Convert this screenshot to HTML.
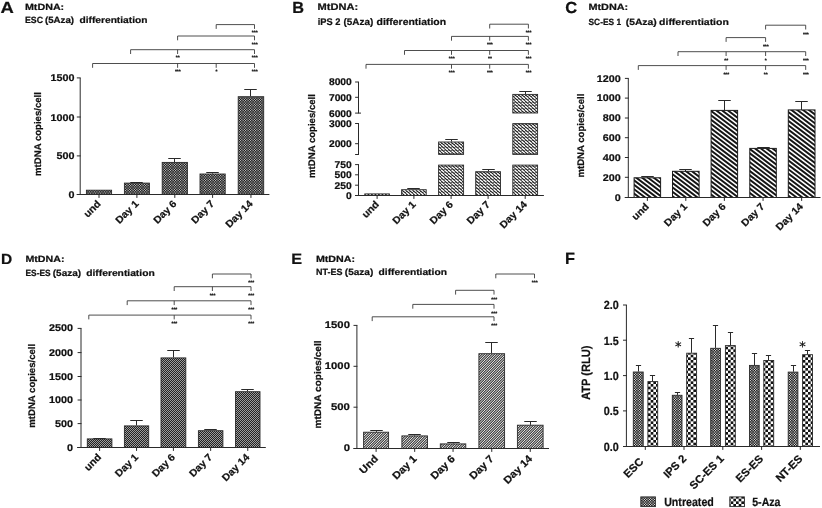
<!DOCTYPE html>
<html><head><meta charset="utf-8"><title>Figure</title>
<style>
html,body{margin:0;padding:0;background:#fff;}
body{width:822px;height:508px;overflow:hidden;}
svg{display:block;font-family:"Liberation Sans",sans-serif;}
text{fill:#111;stroke:#111;stroke-width:0.22px;}
</style></head><body>
<svg width="822" height="508" viewBox="0 0 822 508" text-rendering="geometricPrecision">
<defs>
<pattern id="pA" width="5" height="5" patternUnits="userSpaceOnUse"><rect width="5" height="5" fill="#141414"/><rect x="0.100" y="0.100" width="1.050" height="1.050" fill="#e0e0e0"/><rect x="0.100" y="2.600" width="1.050" height="1.050" fill="#e0e0e0"/><rect x="1.350" y="1.350" width="1.050" height="1.050" fill="#e0e0e0"/><rect x="1.350" y="3.850" width="1.050" height="1.050" fill="#e0e0e0"/><rect x="2.600" y="0.100" width="1.050" height="1.050" fill="#e0e0e0"/><rect x="2.600" y="2.600" width="1.050" height="1.050" fill="#e0e0e0"/><rect x="3.850" y="1.350" width="1.050" height="1.050" fill="#e0e0e0"/><rect x="3.850" y="3.850" width="1.050" height="1.050" fill="#e0e0e0"/></pattern>
<pattern id="pD" width="2" height="2" patternUnits="userSpaceOnUse"><rect width="2" height="2" fill="#222222"/><rect x="0.000" y="0.000" width="1.000" height="1.000" fill="#9c9c9c"/><rect x="1.000" y="1.000" width="1.000" height="1.000" fill="#9c9c9c"/></pattern>
<pattern id="pB" width="7" height="16" patternUnits="userSpaceOnUse"><rect width="7" height="16" fill="#141414"/><path d="M-3.40 -2.90L-0.10 -0.30M-3.40 0.30L-0.10 2.90M-3.40 3.50L-0.10 6.10M-3.40 6.70L-0.10 9.30M-3.40 9.90L-0.10 12.50M-3.40 13.10L-0.10 15.70M-3.40 16.30L-0.10 18.90M0.10 -2.90L3.40 -0.30M0.10 0.30L3.40 2.90M0.10 3.50L3.40 6.10M0.10 6.70L3.40 9.30M0.10 9.90L3.40 12.50M0.10 13.10L3.40 15.70M0.10 16.30L3.40 18.90M3.60 -2.90L6.90 -0.30M3.60 0.30L6.90 2.90M3.60 3.50L6.90 6.10M3.60 6.70L6.90 9.30M3.60 9.90L6.90 12.50M3.60 13.10L6.90 15.70M3.60 16.30L6.90 18.90M7.10 -2.90L10.40 -0.30M7.10 0.30L10.40 2.90M7.10 3.50L10.40 6.10M7.10 6.70L10.40 9.30M7.10 9.90L10.40 12.50M7.10 13.10L10.40 15.70M7.10 16.30L10.40 18.90" stroke="#ffffff" stroke-width="1.4" fill="none"/></pattern>
<pattern id="pE" width="5" height="5" patternUnits="userSpaceOnUse"><rect width="5" height="5" fill="#484848"/><path d="M1.00 -1L-1 1.00M3.50 -1L-1 3.50M6.00 -1L-1 6.00M8.50 -1L-1 8.50M11.00 -1L-1 11.00" stroke="#e4e4e4" stroke-width="1.0" fill="none"/></pattern>
<pattern id="pU" width="5" height="5" patternUnits="userSpaceOnUse"><rect width="5" height="5" fill="#141414"/><circle cx="0.625" cy="0.625" r="0.56" fill="#ffffff"/><circle cx="0.625" cy="3.125" r="0.56" fill="#ffffff"/><circle cx="1.875" cy="1.875" r="0.56" fill="#ffffff"/><circle cx="1.875" cy="4.375" r="0.56" fill="#ffffff"/><circle cx="3.125" cy="0.625" r="0.56" fill="#ffffff"/><circle cx="3.125" cy="3.125" r="0.56" fill="#ffffff"/><circle cx="4.375" cy="1.875" r="0.56" fill="#ffffff"/><circle cx="4.375" cy="4.375" r="0.56" fill="#ffffff"/></pattern>
<pattern id="pZ" width="16" height="16" patternUnits="userSpaceOnUse"><rect width="16" height="16" fill="#ffffff"/><rect x="0.000" y="0.000" width="2.667" height="2.667" fill="#111111"/><rect x="0.000" y="5.333" width="2.667" height="2.667" fill="#111111"/><rect x="0.000" y="10.667" width="2.667" height="2.667" fill="#111111"/><rect x="2.667" y="2.667" width="2.667" height="2.667" fill="#111111"/><rect x="2.667" y="8.000" width="2.667" height="2.667" fill="#111111"/><rect x="2.667" y="13.333" width="2.667" height="2.667" fill="#111111"/><rect x="5.333" y="0.000" width="2.667" height="2.667" fill="#111111"/><rect x="5.333" y="5.333" width="2.667" height="2.667" fill="#111111"/><rect x="5.333" y="10.667" width="2.667" height="2.667" fill="#111111"/><rect x="8.000" y="2.667" width="2.667" height="2.667" fill="#111111"/><rect x="8.000" y="8.000" width="2.667" height="2.667" fill="#111111"/><rect x="8.000" y="13.333" width="2.667" height="2.667" fill="#111111"/><rect x="10.667" y="0.000" width="2.667" height="2.667" fill="#111111"/><rect x="10.667" y="5.333" width="2.667" height="2.667" fill="#111111"/><rect x="10.667" y="10.667" width="2.667" height="2.667" fill="#111111"/><rect x="13.333" y="2.667" width="2.667" height="2.667" fill="#111111"/><rect x="13.333" y="8.000" width="2.667" height="2.667" fill="#111111"/><rect x="13.333" y="13.333" width="2.667" height="2.667" fill="#111111"/></pattern>
</defs>
<rect width="822" height="508" fill="#fff"/>

<g id="panelA">
<text transform="translate(0.60 13.00) scale(1.15 1)" font-size="16" font-weight="bold" text-anchor="start" stroke="#111" stroke-width="0.4">A</text>
<text transform="translate(24.90 10.40)" font-size="9.0" font-weight="bold" text-anchor="start" textLength="39.30" lengthAdjust="spacingAndGlyphs" stroke="#111" stroke-width="0.3">MtDNA:</text>
<text transform="translate(25.00 22.90)" font-size="9.0" font-weight="bold" text-anchor="start" textLength="18.10" lengthAdjust="spacingAndGlyphs" stroke="#111" stroke-width="0.3">ESC</text>
<text transform="translate(45.00 22.90)" font-size="9.0" font-weight="bold" text-anchor="start" textLength="29.10" lengthAdjust="spacingAndGlyphs" stroke="#111" stroke-width="0.3">(5Aza)</text>
<text transform="translate(79.50 22.90)" font-size="9.0" font-weight="bold" text-anchor="start" textLength="67.90" lengthAdjust="spacingAndGlyphs" stroke="#111" stroke-width="0.3">differentiation</text>
<line x1="216.20" y1="24.60" x2="254.50" y2="24.60" stroke="#3a3a3a" stroke-width="0.9"/>
<line x1="216.20" y1="24.60" x2="216.20" y2="28.90" stroke="#3a3a3a" stroke-width="0.9"/>
<line x1="254.50" y1="24.60" x2="254.50" y2="28.90" stroke="#3a3a3a" stroke-width="0.9"/>
<text transform="translate(254.70 34.20)" font-size="5.0" font-weight="bold" text-anchor="middle" fill="#4a4a4a" stroke="none">***</text>
<line x1="177.60" y1="36.00" x2="254.50" y2="36.00" stroke="#3a3a3a" stroke-width="0.9"/>
<line x1="177.60" y1="36.00" x2="177.60" y2="40.30" stroke="#3a3a3a" stroke-width="0.9"/>
<line x1="254.50" y1="36.00" x2="254.50" y2="40.30" stroke="#3a3a3a" stroke-width="0.9"/>
<text transform="translate(254.70 45.60)" font-size="5.0" font-weight="bold" text-anchor="middle" fill="#4a4a4a" stroke="none">***</text>
<line x1="130.60" y1="49.70" x2="254.50" y2="49.70" stroke="#3a3a3a" stroke-width="0.9"/>
<line x1="130.60" y1="49.70" x2="130.60" y2="54.00" stroke="#3a3a3a" stroke-width="0.9"/>
<line x1="177.60" y1="49.70" x2="177.60" y2="54.00" stroke="#3a3a3a" stroke-width="0.9"/>
<line x1="254.50" y1="49.70" x2="254.50" y2="54.00" stroke="#3a3a3a" stroke-width="0.9"/>
<text transform="translate(177.80 59.30)" font-size="5.0" font-weight="bold" text-anchor="middle" fill="#4a4a4a" stroke="none">**</text>
<text transform="translate(254.70 59.30)" font-size="5.0" font-weight="bold" text-anchor="middle" fill="#4a4a4a" stroke="none">***</text>
<line x1="92.60" y1="63.50" x2="254.50" y2="63.50" stroke="#3a3a3a" stroke-width="0.9"/>
<line x1="92.60" y1="63.50" x2="92.60" y2="67.80" stroke="#3a3a3a" stroke-width="0.9"/>
<line x1="177.60" y1="63.50" x2="177.60" y2="67.80" stroke="#3a3a3a" stroke-width="0.9"/>
<line x1="216.20" y1="63.50" x2="216.20" y2="67.80" stroke="#3a3a3a" stroke-width="0.9"/>
<line x1="254.50" y1="63.50" x2="254.50" y2="67.80" stroke="#3a3a3a" stroke-width="0.9"/>
<text transform="translate(177.80 73.10)" font-size="5.0" font-weight="bold" text-anchor="middle" fill="#4a4a4a" stroke="none">***</text>
<text transform="translate(216.40 73.10)" font-size="5.0" font-weight="bold" text-anchor="middle" fill="#4a4a4a" stroke="none">*</text>
<text transform="translate(254.70 73.10)" font-size="5.0" font-weight="bold" text-anchor="middle" fill="#4a4a4a" stroke="none">***</text>
<line x1="80.20" y1="77.90" x2="80.20" y2="194.50" stroke="#2a2a2a" stroke-width="1"/>
<line x1="76.80" y1="77.90" x2="80.70" y2="77.90" stroke="#2a2a2a" stroke-width="1"/>
<text transform="translate(74.40 81.40) scale(1.1 1)" font-size="9.8" font-weight="bold" text-anchor="end">1500</text>
<line x1="76.80" y1="117.00" x2="80.70" y2="117.00" stroke="#2a2a2a" stroke-width="1"/>
<text transform="translate(74.40 120.50) scale(1.1 1)" font-size="9.8" font-weight="bold" text-anchor="end">1000</text>
<line x1="76.80" y1="155.90" x2="80.70" y2="155.90" stroke="#2a2a2a" stroke-width="1"/>
<text transform="translate(74.40 159.40) scale(1.1 1)" font-size="9.8" font-weight="bold" text-anchor="end">500</text>
<line x1="76.80" y1="194.50" x2="80.70" y2="194.50" stroke="#2a2a2a" stroke-width="1"/>
<text transform="translate(74.40 198.00) scale(1.1 1)" font-size="9.8" font-weight="bold" text-anchor="end">0</text>
<text transform="translate(41.00 134.00) rotate(-90)" font-size="9.6" font-weight="bold" text-anchor="middle">mtDNA copies/cell</text>
<rect x="86.40" y="190.20" width="25.20" height="4.30" fill="url(#pA)" stroke="#2a2a2a" stroke-width="0.9"/>
<line x1="136.50" y1="182.70" x2="136.50" y2="182.50" stroke="#2a2a2a" stroke-width="1"/>
<line x1="130.25" y1="182.50" x2="142.75" y2="182.50" stroke="#2a2a2a" stroke-width="1"/>
<rect x="124.40" y="183.10" width="25.00" height="11.40" fill="url(#pA)" stroke="#2a2a2a" stroke-width="0.9"/>
<line x1="174.50" y1="162.00" x2="174.50" y2="158.50" stroke="#2a2a2a" stroke-width="1"/>
<line x1="168.25" y1="158.50" x2="180.75" y2="158.50" stroke="#2a2a2a" stroke-width="1"/>
<rect x="162.20" y="162.40" width="25.20" height="32.10" fill="url(#pA)" stroke="#2a2a2a" stroke-width="0.9"/>
<line x1="212.50" y1="173.60" x2="212.50" y2="172.50" stroke="#2a2a2a" stroke-width="1"/>
<line x1="206.25" y1="172.50" x2="218.75" y2="172.50" stroke="#2a2a2a" stroke-width="1"/>
<rect x="200.00" y="174.00" width="25.20" height="20.50" fill="url(#pA)" stroke="#2a2a2a" stroke-width="0.9"/>
<line x1="250.50" y1="96.30" x2="250.50" y2="89.50" stroke="#2a2a2a" stroke-width="1"/>
<line x1="244.25" y1="89.50" x2="256.75" y2="89.50" stroke="#2a2a2a" stroke-width="1"/>
<rect x="238.20" y="96.70" width="25.50" height="97.80" fill="url(#pA)" stroke="#2a2a2a" stroke-width="0.9"/>
<line x1="76.80" y1="194.50" x2="269.40" y2="194.50" stroke="#2a2a2a" stroke-width="1"/>
<line x1="99.00" y1="194.50" x2="99.00" y2="197.90" stroke="#2a2a2a" stroke-width="1"/>
<line x1="136.90" y1="194.50" x2="136.90" y2="197.90" stroke="#2a2a2a" stroke-width="1"/>
<line x1="174.80" y1="194.50" x2="174.80" y2="197.90" stroke="#2a2a2a" stroke-width="1"/>
<line x1="212.60" y1="194.50" x2="212.60" y2="197.90" stroke="#2a2a2a" stroke-width="1"/>
<line x1="250.95" y1="194.50" x2="250.95" y2="197.90" stroke="#2a2a2a" stroke-width="1"/>
<text transform="translate(101.40 204.40) rotate(-45) scale(1.05 1)" font-size="10" font-weight="bold" text-anchor="end">und</text>
<text transform="translate(139.30 204.40) rotate(-45) scale(1.05 1)" font-size="10" font-weight="bold" text-anchor="end">Day 1</text>
<text transform="translate(177.20 204.40) rotate(-45) scale(1.05 1)" font-size="10" font-weight="bold" text-anchor="end">Day 6</text>
<text transform="translate(215.00 204.40) rotate(-45) scale(1.05 1)" font-size="10" font-weight="bold" text-anchor="end">Day 7</text>
<text transform="translate(253.35 204.40) rotate(-45) scale(1.05 1)" font-size="10" font-weight="bold" text-anchor="end">Day 14</text>
</g>
<g id="panelB">
<text transform="translate(292.20 13.00) scale(1.02 1)" font-size="16" font-weight="bold" text-anchor="start" stroke="#111" stroke-width="0.4">B</text>
<text transform="translate(317.60 10.40)" font-size="9.6" font-weight="bold" text-anchor="start" textLength="40.50" lengthAdjust="spacingAndGlyphs" stroke="#111" stroke-width="0.3">MtDNA:</text>
<text transform="translate(317.70 24.70)" font-size="9.6" font-weight="bold" text-anchor="start" textLength="22.70" lengthAdjust="spacingAndGlyphs" stroke="#111" stroke-width="0.3">iPS 2</text>
<text transform="translate(343.50 24.70)" font-size="9.6" font-weight="bold" text-anchor="start" textLength="29.80" lengthAdjust="spacingAndGlyphs" stroke="#111" stroke-width="0.3">(5Aza)</text>
<text transform="translate(376.60 24.70)" font-size="9.6" font-weight="bold" text-anchor="start" textLength="69.50" lengthAdjust="spacingAndGlyphs" stroke="#111" stroke-width="0.3">differentiation</text>
<line x1="489.70" y1="24.20" x2="528.40" y2="24.20" stroke="#3a3a3a" stroke-width="0.9"/>
<line x1="489.70" y1="24.20" x2="489.70" y2="28.50" stroke="#3a3a3a" stroke-width="0.9"/>
<line x1="528.40" y1="24.20" x2="528.40" y2="28.50" stroke="#3a3a3a" stroke-width="0.9"/>
<text transform="translate(528.60 34.00)" font-size="5.0" font-weight="bold" text-anchor="middle" fill="#4a4a4a" stroke="none">***</text>
<line x1="451.50" y1="36.40" x2="528.40" y2="36.40" stroke="#3a3a3a" stroke-width="0.9"/>
<line x1="451.50" y1="36.40" x2="451.50" y2="40.70" stroke="#3a3a3a" stroke-width="0.9"/>
<line x1="489.70" y1="36.40" x2="489.70" y2="40.70" stroke="#3a3a3a" stroke-width="0.9"/>
<line x1="528.40" y1="36.40" x2="528.40" y2="40.70" stroke="#3a3a3a" stroke-width="0.9"/>
<text transform="translate(489.90 46.20)" font-size="5.0" font-weight="bold" text-anchor="middle" fill="#4a4a4a" stroke="none">***</text>
<text transform="translate(528.60 46.20)" font-size="5.0" font-weight="bold" text-anchor="middle" fill="#4a4a4a" stroke="none">***</text>
<line x1="404.50" y1="50.50" x2="528.40" y2="50.50" stroke="#3a3a3a" stroke-width="0.9"/>
<line x1="404.50" y1="50.50" x2="404.50" y2="54.80" stroke="#3a3a3a" stroke-width="0.9"/>
<line x1="451.50" y1="50.50" x2="451.50" y2="54.80" stroke="#3a3a3a" stroke-width="0.9"/>
<line x1="489.70" y1="50.50" x2="489.70" y2="54.80" stroke="#3a3a3a" stroke-width="0.9"/>
<line x1="528.40" y1="50.50" x2="528.40" y2="54.80" stroke="#3a3a3a" stroke-width="0.9"/>
<text transform="translate(451.70 60.30)" font-size="5.0" font-weight="bold" text-anchor="middle" fill="#4a4a4a" stroke="none">***</text>
<text transform="translate(489.90 60.30)" font-size="5.0" font-weight="bold" text-anchor="middle" fill="#4a4a4a" stroke="none">**</text>
<text transform="translate(528.60 60.30)" font-size="5.0" font-weight="bold" text-anchor="middle" fill="#4a4a4a" stroke="none">***</text>
<line x1="366.00" y1="64.40" x2="528.40" y2="64.40" stroke="#3a3a3a" stroke-width="0.9"/>
<line x1="366.00" y1="64.40" x2="366.00" y2="68.70" stroke="#3a3a3a" stroke-width="0.9"/>
<line x1="451.50" y1="64.40" x2="451.50" y2="68.70" stroke="#3a3a3a" stroke-width="0.9"/>
<line x1="489.70" y1="64.40" x2="489.70" y2="68.70" stroke="#3a3a3a" stroke-width="0.9"/>
<line x1="528.40" y1="64.40" x2="528.40" y2="68.70" stroke="#3a3a3a" stroke-width="0.9"/>
<text transform="translate(451.70 74.20)" font-size="5.0" font-weight="bold" text-anchor="middle" fill="#4a4a4a" stroke="none">***</text>
<text transform="translate(489.90 74.20)" font-size="5.0" font-weight="bold" text-anchor="middle" fill="#4a4a4a" stroke="none">***</text>
<text transform="translate(528.60 74.20)" font-size="5.0" font-weight="bold" text-anchor="middle" fill="#4a4a4a" stroke="none">***</text>
<line x1="358.50" y1="82.00" x2="358.50" y2="113.10" stroke="#2a2a2a" stroke-width="1"/>
<line x1="355.10" y1="82.00" x2="359.00" y2="82.00" stroke="#2a2a2a" stroke-width="1"/>
<text transform="translate(351.80 85.40) scale(1.05 1)" font-size="9.8" font-weight="bold" text-anchor="end">8000</text>
<line x1="355.10" y1="97.30" x2="359.00" y2="97.30" stroke="#2a2a2a" stroke-width="1"/>
<text transform="translate(351.80 100.70) scale(1.05 1)" font-size="9.8" font-weight="bold" text-anchor="end">7000</text>
<line x1="355.10" y1="113.10" x2="359.00" y2="113.10" stroke="#2a2a2a" stroke-width="1"/>
<text transform="translate(351.80 116.50) scale(1.05 1)" font-size="9.8" font-weight="bold" text-anchor="end">6000</text>
<line x1="358.50" y1="113.10" x2="361.00" y2="113.10" stroke="#2a2a2a" stroke-width="1"/>
<line x1="358.50" y1="123.50" x2="358.50" y2="154.50" stroke="#2a2a2a" stroke-width="1"/>
<line x1="355.10" y1="123.50" x2="359.00" y2="123.50" stroke="#2a2a2a" stroke-width="1"/>
<text transform="translate(351.80 126.90) scale(1.05 1)" font-size="9.8" font-weight="bold" text-anchor="end">3000</text>
<line x1="355.10" y1="143.70" x2="359.00" y2="143.70" stroke="#2a2a2a" stroke-width="1"/>
<text transform="translate(351.80 147.10) scale(1.05 1)" font-size="9.8" font-weight="bold" text-anchor="end">2000</text>
<line x1="355.10" y1="154.50" x2="359.00" y2="154.50" stroke="#2a2a2a" stroke-width="1"/>
<line x1="358.50" y1="164.60" x2="358.50" y2="195.50" stroke="#2a2a2a" stroke-width="1"/>
<line x1="355.10" y1="164.60" x2="359.00" y2="164.60" stroke="#2a2a2a" stroke-width="1"/>
<text transform="translate(351.80 168.00) scale(1.05 1)" font-size="9.8" font-weight="bold" text-anchor="end">750</text>
<line x1="355.10" y1="174.80" x2="359.00" y2="174.80" stroke="#2a2a2a" stroke-width="1"/>
<text transform="translate(351.80 178.20) scale(1.05 1)" font-size="9.8" font-weight="bold" text-anchor="end">500</text>
<line x1="355.10" y1="185.20" x2="359.00" y2="185.20" stroke="#2a2a2a" stroke-width="1"/>
<text transform="translate(351.80 188.60) scale(1.05 1)" font-size="9.8" font-weight="bold" text-anchor="end">250</text>
<line x1="355.10" y1="195.50" x2="359.00" y2="195.50" stroke="#2a2a2a" stroke-width="1"/>
<text transform="translate(351.80 198.90) scale(1.05 1)" font-size="9.8" font-weight="bold" text-anchor="end">0</text>
<text transform="translate(314.50 136.00) rotate(-90)" font-size="9.6" font-weight="bold" text-anchor="middle">mtDNA copies/cell</text>
<rect x="364.80" y="193.90" width="24.60" height="1.60" fill="url(#pB)" stroke="#2a2a2a" stroke-width="0.9"/>
<line x1="413.50" y1="189.30" x2="413.50" y2="188.50" stroke="#2a2a2a" stroke-width="1"/>
<line x1="407.25" y1="188.50" x2="419.75" y2="188.50" stroke="#2a2a2a" stroke-width="1"/>
<rect x="401.60" y="189.70" width="24.60" height="5.80" fill="url(#pB)" stroke="#2a2a2a" stroke-width="0.9"/>
<line x1="451.50" y1="141.60" x2="451.50" y2="139.50" stroke="#2a2a2a" stroke-width="1"/>
<line x1="445.25" y1="139.50" x2="457.75" y2="139.50" stroke="#2a2a2a" stroke-width="1"/>
<rect x="438.60" y="165.10" width="25.00" height="30.40" fill="url(#pB)" stroke="#2a2a2a" stroke-width="0.9"/>
<rect x="438.60" y="142.00" width="25.00" height="12.40" fill="url(#pB)" stroke="#2a2a2a" stroke-width="0.9"/>
<line x1="488.50" y1="171.30" x2="488.50" y2="169.50" stroke="#2a2a2a" stroke-width="1"/>
<line x1="482.25" y1="169.50" x2="494.75" y2="169.50" stroke="#2a2a2a" stroke-width="1"/>
<rect x="475.70" y="171.70" width="24.80" height="23.80" fill="url(#pB)" stroke="#2a2a2a" stroke-width="0.9"/>
<line x1="525.50" y1="94.00" x2="525.50" y2="91.50" stroke="#2a2a2a" stroke-width="1"/>
<line x1="519.25" y1="91.50" x2="531.75" y2="91.50" stroke="#2a2a2a" stroke-width="1"/>
<rect x="512.80" y="165.10" width="24.80" height="30.40" fill="url(#pB)" stroke="#2a2a2a" stroke-width="0.9"/>
<rect x="512.80" y="123.60" width="24.80" height="30.80" fill="url(#pB)" stroke="#2a2a2a" stroke-width="0.9"/>
<rect x="512.80" y="94.40" width="24.80" height="18.60" fill="url(#pB)" stroke="#2a2a2a" stroke-width="0.9"/>
<line x1="355.10" y1="195.50" x2="543.90" y2="195.50" stroke="#2a2a2a" stroke-width="1"/>
<line x1="377.10" y1="195.50" x2="377.10" y2="198.90" stroke="#2a2a2a" stroke-width="1"/>
<line x1="413.90" y1="195.50" x2="413.90" y2="198.90" stroke="#2a2a2a" stroke-width="1"/>
<line x1="451.10" y1="195.50" x2="451.10" y2="198.90" stroke="#2a2a2a" stroke-width="1"/>
<line x1="488.10" y1="195.50" x2="488.10" y2="198.90" stroke="#2a2a2a" stroke-width="1"/>
<line x1="525.20" y1="195.50" x2="525.20" y2="198.90" stroke="#2a2a2a" stroke-width="1"/>
<text transform="translate(379.60 205.00) rotate(-45) scale(1.05 1)" font-size="10" font-weight="bold" text-anchor="end">und</text>
<text transform="translate(416.40 205.00) rotate(-45) scale(1.05 1)" font-size="10" font-weight="bold" text-anchor="end">Day 1</text>
<text transform="translate(453.60 205.00) rotate(-45) scale(1.05 1)" font-size="10" font-weight="bold" text-anchor="end">Day 6</text>
<text transform="translate(490.60 205.00) rotate(-45) scale(1.05 1)" font-size="10" font-weight="bold" text-anchor="end">Day 7</text>
<text transform="translate(527.70 205.00) rotate(-45) scale(1.05 1)" font-size="10" font-weight="bold" text-anchor="end">Day 14</text>
</g>
<g id="panelC">
<text transform="translate(565.30 13.20) scale(1.03 1)" font-size="16" font-weight="bold" text-anchor="start" stroke="#111" stroke-width="0.4">C</text>
<text transform="translate(588.40 10.40)" font-size="9.0" font-weight="bold" text-anchor="start" textLength="39.80" lengthAdjust="spacingAndGlyphs" stroke="#111" stroke-width="0.3">MtDNA:</text>
<text transform="translate(588.50 24.70)" font-size="9.0" font-weight="bold" text-anchor="start" textLength="32.60" lengthAdjust="spacingAndGlyphs" stroke="#111" stroke-width="0.3">SC-ES 1</text>
<text transform="translate(625.70 24.70)" font-size="9.0" font-weight="bold" text-anchor="start" textLength="31.00" lengthAdjust="spacingAndGlyphs" stroke="#111" stroke-width="0.3">(5Aza)</text>
<text transform="translate(659.10 24.70)" font-size="9.0" font-weight="bold" text-anchor="start" textLength="69.70" lengthAdjust="spacingAndGlyphs" stroke="#111" stroke-width="0.3">differentiation</text>
<line x1="765.60" y1="25.20" x2="805.70" y2="25.20" stroke="#3a3a3a" stroke-width="0.9"/>
<line x1="765.60" y1="25.20" x2="765.60" y2="29.50" stroke="#3a3a3a" stroke-width="0.9"/>
<line x1="805.70" y1="25.20" x2="805.70" y2="29.50" stroke="#3a3a3a" stroke-width="0.9"/>
<text transform="translate(805.90 35.50)" font-size="5.0" font-weight="bold" text-anchor="middle" fill="#4a4a4a" stroke="none">***</text>
<line x1="726.10" y1="37.60" x2="765.60" y2="37.60" stroke="#3a3a3a" stroke-width="0.9"/>
<line x1="726.10" y1="37.60" x2="726.10" y2="41.90" stroke="#3a3a3a" stroke-width="0.9"/>
<line x1="765.60" y1="37.60" x2="765.60" y2="41.90" stroke="#3a3a3a" stroke-width="0.9"/>
<text transform="translate(765.80 47.90)" font-size="5.0" font-weight="bold" text-anchor="middle" fill="#4a4a4a" stroke="none">***</text>
<line x1="678.00" y1="51.70" x2="805.70" y2="51.70" stroke="#3a3a3a" stroke-width="0.9"/>
<line x1="678.00" y1="51.70" x2="678.00" y2="56.00" stroke="#3a3a3a" stroke-width="0.9"/>
<line x1="726.10" y1="51.70" x2="726.10" y2="56.00" stroke="#3a3a3a" stroke-width="0.9"/>
<line x1="765.60" y1="51.70" x2="765.60" y2="56.00" stroke="#3a3a3a" stroke-width="0.9"/>
<line x1="805.70" y1="51.70" x2="805.70" y2="56.00" stroke="#3a3a3a" stroke-width="0.9"/>
<text transform="translate(726.30 62.00)" font-size="5.0" font-weight="bold" text-anchor="middle" fill="#4a4a4a" stroke="none">**</text>
<text transform="translate(765.80 62.00)" font-size="5.0" font-weight="bold" text-anchor="middle" fill="#4a4a4a" stroke="none">*</text>
<text transform="translate(805.90 62.00)" font-size="5.0" font-weight="bold" text-anchor="middle" fill="#4a4a4a" stroke="none">***</text>
<line x1="638.30" y1="65.60" x2="805.70" y2="65.60" stroke="#3a3a3a" stroke-width="0.9"/>
<line x1="638.30" y1="65.60" x2="638.30" y2="69.90" stroke="#3a3a3a" stroke-width="0.9"/>
<line x1="726.10" y1="65.60" x2="726.10" y2="69.90" stroke="#3a3a3a" stroke-width="0.9"/>
<line x1="765.60" y1="65.60" x2="765.60" y2="69.90" stroke="#3a3a3a" stroke-width="0.9"/>
<line x1="805.70" y1="65.60" x2="805.70" y2="69.90" stroke="#3a3a3a" stroke-width="0.9"/>
<text transform="translate(726.30 75.90)" font-size="5.0" font-weight="bold" text-anchor="middle" fill="#4a4a4a" stroke="none">***</text>
<text transform="translate(765.80 75.90)" font-size="5.0" font-weight="bold" text-anchor="middle" fill="#4a4a4a" stroke="none">**</text>
<text transform="translate(805.90 75.90)" font-size="5.0" font-weight="bold" text-anchor="middle" fill="#4a4a4a" stroke="none">***</text>
<line x1="628.30" y1="78.40" x2="628.30" y2="197.50" stroke="#2a2a2a" stroke-width="1"/>
<line x1="624.90" y1="78.40" x2="628.80" y2="78.40" stroke="#2a2a2a" stroke-width="1"/>
<text transform="translate(620.70 81.60) scale(1.1 1)" font-size="9.8" font-weight="bold" text-anchor="end">1200</text>
<line x1="624.90" y1="98.10" x2="628.80" y2="98.10" stroke="#2a2a2a" stroke-width="1"/>
<text transform="translate(620.70 101.30) scale(1.1 1)" font-size="9.8" font-weight="bold" text-anchor="end">1000</text>
<line x1="624.90" y1="118.00" x2="628.80" y2="118.00" stroke="#2a2a2a" stroke-width="1"/>
<text transform="translate(620.70 121.20) scale(1.1 1)" font-size="9.8" font-weight="bold" text-anchor="end">800</text>
<line x1="624.90" y1="137.70" x2="628.80" y2="137.70" stroke="#2a2a2a" stroke-width="1"/>
<text transform="translate(620.70 140.90) scale(1.1 1)" font-size="9.8" font-weight="bold" text-anchor="end">600</text>
<line x1="624.90" y1="157.50" x2="628.80" y2="157.50" stroke="#2a2a2a" stroke-width="1"/>
<text transform="translate(620.70 160.70) scale(1.1 1)" font-size="9.8" font-weight="bold" text-anchor="end">400</text>
<line x1="624.90" y1="177.30" x2="628.80" y2="177.30" stroke="#2a2a2a" stroke-width="1"/>
<text transform="translate(620.70 180.50) scale(1.1 1)" font-size="9.8" font-weight="bold" text-anchor="end">200</text>
<line x1="624.90" y1="197.50" x2="628.80" y2="197.50" stroke="#2a2a2a" stroke-width="1"/>
<text transform="translate(620.70 200.70) scale(1.1 1)" font-size="9.8" font-weight="bold" text-anchor="end">0</text>
<text transform="translate(583.80 135.60) rotate(-90)" font-size="9.6" font-weight="bold" text-anchor="middle">mtDNA copies/cell</text>
<clipPath id="clipC">
<rect x="634.10" y="177.80" width="26.50" height="19.70"/>
<rect x="672.50" y="171.30" width="26.60" height="26.20"/>
<rect x="711.10" y="110.40" width="26.50" height="87.10"/>
<rect x="749.80" y="148.40" width="26.50" height="49.10"/>
<rect x="788.30" y="109.90" width="26.70" height="87.60"/>
</clipPath>
<line x1="647.50" y1="177.80" x2="647.50" y2="176.50" stroke="#2a2a2a" stroke-width="1"/>
<line x1="641.25" y1="176.50" x2="653.75" y2="176.50" stroke="#2a2a2a" stroke-width="1"/>
<line x1="685.50" y1="171.30" x2="685.50" y2="169.50" stroke="#2a2a2a" stroke-width="1"/>
<line x1="679.25" y1="169.50" x2="691.75" y2="169.50" stroke="#2a2a2a" stroke-width="1"/>
<line x1="724.50" y1="110.40" x2="724.50" y2="100.50" stroke="#2a2a2a" stroke-width="1"/>
<line x1="718.25" y1="100.50" x2="730.75" y2="100.50" stroke="#2a2a2a" stroke-width="1"/>
<line x1="763.50" y1="148.40" x2="763.50" y2="147.50" stroke="#2a2a2a" stroke-width="1"/>
<line x1="757.25" y1="147.50" x2="769.75" y2="147.50" stroke="#2a2a2a" stroke-width="1"/>
<line x1="801.50" y1="109.90" x2="801.50" y2="101.50" stroke="#2a2a2a" stroke-width="1"/>
<line x1="795.25" y1="101.50" x2="807.75" y2="101.50" stroke="#2a2a2a" stroke-width="1"/>
<g clip-path="url(#clipC)" stroke="#151515" stroke-width="1.95">
<path d="M630 -69.10L822 75.86M630 -64.70L822 80.26M630 -60.30L822 84.66M630 -55.90L822 89.06M630 -51.50L822 93.46M630 -47.10L822 97.86M630 -42.70L822 102.26M630 -38.30L822 106.66M630 -33.90L822 111.06M630 -29.50L822 115.46M630 -25.10L822 119.86M630 -20.70L822 124.26M630 -16.30L822 128.66M630 -11.90L822 133.06M630 -7.50L822 137.46M630 -3.10L822 141.86M630 1.30L822 146.26M630 5.70L822 150.66M630 10.10L822 155.06M630 14.50L822 159.46M630 18.90L822 163.86M630 23.30L822 168.26M630 27.70L822 172.66M630 32.10L822 177.06M630 36.50L822 181.46M630 40.90L822 185.86M630 45.30L822 190.26M630 49.70L822 194.66M630 54.10L822 199.06M630 58.50L822 203.46M630 62.90L822 207.86M630 67.30L822 212.26M630 71.70L822 216.66M630 76.10L822 221.06M630 80.50L822 225.46M630 84.90L822 229.86M630 89.30L822 234.26M630 93.70L822 238.66M630 98.10L822 243.06M630 102.50L822 247.46M630 106.90L822 251.86M630 111.30L822 256.26M630 115.70L822 260.66M630 120.10L822 265.06M630 124.50L822 269.46M630 128.90L822 273.86M630 133.30L822 278.26M630 137.70L822 282.66M630 142.10L822 287.06M630 146.50L822 291.46M630 150.90L822 295.86M630 155.30L822 300.26M630 159.70L822 304.66M630 164.10L822 309.06M630 168.50L822 313.46M630 172.90L822 317.86M630 177.30L822 322.26M630 181.70L822 326.66M630 186.10L822 331.06M630 190.50L822 335.46M630 194.90L822 339.86M630 199.30L822 344.26M630 203.70L822 348.66" fill="none"/>
</g>
<rect x="634.10" y="177.80" width="26.50" height="19.70" fill="none" stroke="#1a1a1a" stroke-width="1"/>
<rect x="672.50" y="171.30" width="26.60" height="26.20" fill="none" stroke="#1a1a1a" stroke-width="1"/>
<rect x="711.10" y="110.40" width="26.50" height="87.10" fill="none" stroke="#1a1a1a" stroke-width="1"/>
<rect x="749.80" y="148.40" width="26.50" height="49.10" fill="none" stroke="#1a1a1a" stroke-width="1"/>
<rect x="788.30" y="109.90" width="26.70" height="87.60" fill="none" stroke="#1a1a1a" stroke-width="1"/>
<line x1="624.80" y1="197.50" x2="820.50" y2="197.50" stroke="#2a2a2a" stroke-width="1"/>
<line x1="647.35" y1="197.50" x2="647.35" y2="200.90" stroke="#2a2a2a" stroke-width="1"/>
<line x1="685.80" y1="197.50" x2="685.80" y2="200.90" stroke="#2a2a2a" stroke-width="1"/>
<line x1="724.35" y1="197.50" x2="724.35" y2="200.90" stroke="#2a2a2a" stroke-width="1"/>
<line x1="763.05" y1="197.50" x2="763.05" y2="200.90" stroke="#2a2a2a" stroke-width="1"/>
<line x1="801.65" y1="197.50" x2="801.65" y2="200.90" stroke="#2a2a2a" stroke-width="1"/>
<text transform="translate(649.45 207.10) rotate(-45) scale(1.05 1)" font-size="10" font-weight="bold" text-anchor="end">und</text>
<text transform="translate(687.90 207.10) rotate(-45) scale(1.05 1)" font-size="10" font-weight="bold" text-anchor="end">Day 1</text>
<text transform="translate(726.45 207.10) rotate(-45) scale(1.05 1)" font-size="10" font-weight="bold" text-anchor="end">Day 6</text>
<text transform="translate(765.15 207.10) rotate(-45) scale(1.05 1)" font-size="10" font-weight="bold" text-anchor="end">Day 7</text>
<text transform="translate(803.75 207.10) rotate(-45) scale(1.05 1)" font-size="10" font-weight="bold" text-anchor="end">Day 14</text>
</g>
<g id="panelD">
<text transform="translate(0.90 264.20) scale(1.06 1)" font-size="14.6" font-weight="bold" text-anchor="start" stroke="#111" stroke-width="0.4">D</text>
<text transform="translate(25.40 262.10)" font-size="9.0" font-weight="bold" text-anchor="start" textLength="39.10" lengthAdjust="spacingAndGlyphs" stroke="#111" stroke-width="0.3">MtDNA:</text>
<text transform="translate(25.50 275.90)" font-size="9.0" font-weight="bold" text-anchor="start" textLength="25.20" lengthAdjust="spacingAndGlyphs" stroke="#111" stroke-width="0.3">ES-ES</text>
<text transform="translate(52.80 275.90)" font-size="9.0" font-weight="bold" text-anchor="start" textLength="28.30" lengthAdjust="spacingAndGlyphs" stroke="#111" stroke-width="0.3">(5aza)</text>
<text transform="translate(86.20 275.90)" font-size="9.0" font-weight="bold" text-anchor="start" textLength="68.50" lengthAdjust="spacingAndGlyphs" stroke="#111" stroke-width="0.3">differentiation</text>
<line x1="212.40" y1="274.00" x2="251.00" y2="274.00" stroke="#3a3a3a" stroke-width="0.9"/>
<line x1="212.40" y1="274.00" x2="212.40" y2="278.30" stroke="#3a3a3a" stroke-width="0.9"/>
<line x1="251.00" y1="274.00" x2="251.00" y2="278.30" stroke="#3a3a3a" stroke-width="0.9"/>
<text transform="translate(251.20 284.20)" font-size="5.0" font-weight="bold" text-anchor="middle" fill="#4a4a4a" stroke="none">***</text>
<line x1="174.20" y1="286.70" x2="251.00" y2="286.70" stroke="#3a3a3a" stroke-width="0.9"/>
<line x1="174.20" y1="286.70" x2="174.20" y2="291.00" stroke="#3a3a3a" stroke-width="0.9"/>
<line x1="212.40" y1="286.70" x2="212.40" y2="291.00" stroke="#3a3a3a" stroke-width="0.9"/>
<line x1="251.00" y1="286.70" x2="251.00" y2="291.00" stroke="#3a3a3a" stroke-width="0.9"/>
<text transform="translate(212.60 296.90)" font-size="5.0" font-weight="bold" text-anchor="middle" fill="#4a4a4a" stroke="none">***</text>
<text transform="translate(251.20 296.90)" font-size="5.0" font-weight="bold" text-anchor="middle" fill="#4a4a4a" stroke="none">***</text>
<line x1="127.20" y1="300.80" x2="251.00" y2="300.80" stroke="#3a3a3a" stroke-width="0.9"/>
<line x1="127.20" y1="300.80" x2="127.20" y2="305.10" stroke="#3a3a3a" stroke-width="0.9"/>
<line x1="174.20" y1="300.80" x2="174.20" y2="305.10" stroke="#3a3a3a" stroke-width="0.9"/>
<line x1="251.00" y1="300.80" x2="251.00" y2="305.10" stroke="#3a3a3a" stroke-width="0.9"/>
<text transform="translate(174.40 311.00)" font-size="5.0" font-weight="bold" text-anchor="middle" fill="#4a4a4a" stroke="none">***</text>
<text transform="translate(251.20 311.00)" font-size="5.0" font-weight="bold" text-anchor="middle" fill="#4a4a4a" stroke="none">***</text>
<line x1="88.80" y1="315.10" x2="251.00" y2="315.10" stroke="#3a3a3a" stroke-width="0.9"/>
<line x1="88.80" y1="315.10" x2="88.80" y2="319.40" stroke="#3a3a3a" stroke-width="0.9"/>
<line x1="174.20" y1="315.10" x2="174.20" y2="319.40" stroke="#3a3a3a" stroke-width="0.9"/>
<line x1="251.00" y1="315.10" x2="251.00" y2="319.40" stroke="#3a3a3a" stroke-width="0.9"/>
<text transform="translate(174.40 325.30)" font-size="5.0" font-weight="bold" text-anchor="middle" fill="#4a4a4a" stroke="none">***</text>
<text transform="translate(251.20 325.30)" font-size="5.0" font-weight="bold" text-anchor="middle" fill="#4a4a4a" stroke="none">***</text>
<line x1="81.00" y1="328.40" x2="81.00" y2="447.50" stroke="#2a2a2a" stroke-width="1"/>
<line x1="77.60" y1="328.40" x2="81.50" y2="328.40" stroke="#2a2a2a" stroke-width="1"/>
<text transform="translate(73.10 331.40) scale(1.1 1)" font-size="9.8" font-weight="bold" text-anchor="end">2500</text>
<line x1="77.60" y1="352.60" x2="81.50" y2="352.60" stroke="#2a2a2a" stroke-width="1"/>
<text transform="translate(73.10 355.60) scale(1.1 1)" font-size="9.8" font-weight="bold" text-anchor="end">2000</text>
<line x1="77.60" y1="376.50" x2="81.50" y2="376.50" stroke="#2a2a2a" stroke-width="1"/>
<text transform="translate(73.10 379.50) scale(1.1 1)" font-size="9.8" font-weight="bold" text-anchor="end">1500</text>
<line x1="77.60" y1="400.00" x2="81.50" y2="400.00" stroke="#2a2a2a" stroke-width="1"/>
<text transform="translate(73.10 403.00) scale(1.1 1)" font-size="9.8" font-weight="bold" text-anchor="end">1000</text>
<line x1="77.60" y1="423.60" x2="81.50" y2="423.60" stroke="#2a2a2a" stroke-width="1"/>
<text transform="translate(73.10 426.60) scale(1.1 1)" font-size="9.8" font-weight="bold" text-anchor="end">500</text>
<line x1="77.60" y1="447.50" x2="81.50" y2="447.50" stroke="#2a2a2a" stroke-width="1"/>
<text transform="translate(73.10 450.50) scale(1.1 1)" font-size="9.8" font-weight="bold" text-anchor="end">0</text>
<text transform="translate(35.30 385.80) rotate(-90)" font-size="9.6" font-weight="bold" text-anchor="middle">mtDNA copies/cell</text>
<line x1="99.50" y1="438.50" x2="99.50" y2="438.50" stroke="#2a2a2a" stroke-width="1"/>
<line x1="93.25" y1="438.50" x2="105.75" y2="438.50" stroke="#2a2a2a" stroke-width="1"/>
<rect x="87.30" y="438.90" width="24.60" height="8.60" fill="url(#pD)" stroke="#2a2a2a" stroke-width="0.9"/>
<line x1="136.50" y1="425.50" x2="136.50" y2="420.50" stroke="#2a2a2a" stroke-width="1"/>
<line x1="130.25" y1="420.50" x2="142.75" y2="420.50" stroke="#2a2a2a" stroke-width="1"/>
<rect x="124.40" y="425.90" width="24.30" height="21.60" fill="url(#pD)" stroke="#2a2a2a" stroke-width="0.9"/>
<line x1="173.50" y1="357.50" x2="173.50" y2="350.50" stroke="#2a2a2a" stroke-width="1"/>
<line x1="167.25" y1="350.50" x2="179.75" y2="350.50" stroke="#2a2a2a" stroke-width="1"/>
<rect x="161.00" y="357.90" width="24.80" height="89.60" fill="url(#pD)" stroke="#2a2a2a" stroke-width="0.9"/>
<line x1="210.50" y1="430.30" x2="210.50" y2="429.50" stroke="#2a2a2a" stroke-width="1"/>
<line x1="204.25" y1="429.50" x2="216.75" y2="429.50" stroke="#2a2a2a" stroke-width="1"/>
<rect x="198.40" y="430.70" width="24.50" height="16.80" fill="url(#pD)" stroke="#2a2a2a" stroke-width="0.9"/>
<line x1="247.50" y1="391.30" x2="247.50" y2="389.50" stroke="#2a2a2a" stroke-width="1"/>
<line x1="241.25" y1="389.50" x2="253.75" y2="389.50" stroke="#2a2a2a" stroke-width="1"/>
<rect x="235.50" y="391.70" width="24.50" height="55.80" fill="url(#pD)" stroke="#2a2a2a" stroke-width="0.9"/>
<line x1="77.10" y1="447.50" x2="265.80" y2="447.50" stroke="#2a2a2a" stroke-width="1"/>
<line x1="99.60" y1="447.50" x2="99.60" y2="450.90" stroke="#2a2a2a" stroke-width="1"/>
<line x1="136.55" y1="447.50" x2="136.55" y2="450.90" stroke="#2a2a2a" stroke-width="1"/>
<line x1="173.40" y1="447.50" x2="173.40" y2="450.90" stroke="#2a2a2a" stroke-width="1"/>
<line x1="210.65" y1="447.50" x2="210.65" y2="450.90" stroke="#2a2a2a" stroke-width="1"/>
<line x1="247.75" y1="447.50" x2="247.75" y2="450.90" stroke="#2a2a2a" stroke-width="1"/>
<text transform="translate(101.90 457.80) rotate(-45) scale(1.05 1)" font-size="10" font-weight="bold" text-anchor="end">und</text>
<text transform="translate(138.85 457.80) rotate(-45) scale(1.05 1)" font-size="10" font-weight="bold" text-anchor="end">Day 1</text>
<text transform="translate(175.70 457.80) rotate(-45) scale(1.05 1)" font-size="10" font-weight="bold" text-anchor="end">Day 6</text>
<text transform="translate(212.95 457.80) rotate(-45) scale(1.05 1)" font-size="10" font-weight="bold" text-anchor="end">Day 7</text>
<text transform="translate(250.05 457.80) rotate(-45) scale(1.05 1)" font-size="10" font-weight="bold" text-anchor="end">Day 14</text>
</g>
<g id="panelE">
<text transform="translate(291.20 264.20) scale(1.08 1)" font-size="15" font-weight="bold" text-anchor="start" stroke="#111" stroke-width="0.4">E</text>
<text transform="translate(315.90 262.10)" font-size="9.0" font-weight="bold" text-anchor="start" textLength="39.20" lengthAdjust="spacingAndGlyphs" stroke="#111" stroke-width="0.3">MtDNA:</text>
<text transform="translate(316.00 275.40)" font-size="9.0" font-weight="bold" text-anchor="start" textLength="26.40" lengthAdjust="spacingAndGlyphs" stroke="#111" stroke-width="0.3">NT-ES</text>
<text transform="translate(344.80 275.40)" font-size="9.0" font-weight="bold" text-anchor="start" textLength="28.50" lengthAdjust="spacingAndGlyphs" stroke="#111" stroke-width="0.3">(5aza)</text>
<text transform="translate(378.60 275.40)" font-size="9.0" font-weight="bold" text-anchor="start" textLength="68.30" lengthAdjust="spacingAndGlyphs" stroke="#111" stroke-width="0.3">differentiation</text>
<line x1="495.80" y1="274.00" x2="534.50" y2="274.00" stroke="#3a3a3a" stroke-width="0.9"/>
<line x1="495.80" y1="274.00" x2="495.80" y2="278.30" stroke="#3a3a3a" stroke-width="0.9"/>
<line x1="534.50" y1="274.00" x2="534.50" y2="278.30" stroke="#3a3a3a" stroke-width="0.9"/>
<text transform="translate(534.70 284.30)" font-size="5.0" font-weight="bold" text-anchor="middle" fill="#4a4a4a" stroke="none">***</text>
<line x1="455.60" y1="290.30" x2="494.00" y2="290.30" stroke="#3a3a3a" stroke-width="0.9"/>
<line x1="455.60" y1="290.30" x2="455.60" y2="294.60" stroke="#3a3a3a" stroke-width="0.9"/>
<line x1="494.00" y1="290.30" x2="494.00" y2="294.60" stroke="#3a3a3a" stroke-width="0.9"/>
<text transform="translate(494.20 300.60)" font-size="5.0" font-weight="bold" text-anchor="middle" fill="#4a4a4a" stroke="none">***</text>
<line x1="412.80" y1="304.40" x2="494.00" y2="304.40" stroke="#3a3a3a" stroke-width="0.9"/>
<line x1="412.80" y1="304.40" x2="412.80" y2="308.70" stroke="#3a3a3a" stroke-width="0.9"/>
<line x1="494.00" y1="304.40" x2="494.00" y2="308.70" stroke="#3a3a3a" stroke-width="0.9"/>
<text transform="translate(494.20 314.70)" font-size="5.0" font-weight="bold" text-anchor="middle" fill="#4a4a4a" stroke="none">***</text>
<line x1="372.20" y1="316.80" x2="494.00" y2="316.80" stroke="#3a3a3a" stroke-width="0.9"/>
<line x1="372.20" y1="316.80" x2="372.20" y2="321.10" stroke="#3a3a3a" stroke-width="0.9"/>
<line x1="494.00" y1="316.80" x2="494.00" y2="321.10" stroke="#3a3a3a" stroke-width="0.9"/>
<text transform="translate(494.20 327.10)" font-size="5.0" font-weight="bold" text-anchor="middle" fill="#4a4a4a" stroke="none">***</text>
<line x1="356.90" y1="325.40" x2="356.90" y2="448.50" stroke="#2a2a2a" stroke-width="1"/>
<line x1="353.50" y1="325.40" x2="357.40" y2="325.40" stroke="#2a2a2a" stroke-width="1"/>
<text transform="translate(349.90 328.30) scale(1.15 1)" font-size="9.8" font-weight="bold" text-anchor="end">1500</text>
<line x1="353.50" y1="366.30" x2="357.40" y2="366.30" stroke="#2a2a2a" stroke-width="1"/>
<text transform="translate(349.90 369.20) scale(1.15 1)" font-size="9.8" font-weight="bold" text-anchor="end">1000</text>
<line x1="353.50" y1="407.20" x2="357.40" y2="407.20" stroke="#2a2a2a" stroke-width="1"/>
<text transform="translate(349.90 410.10) scale(1.15 1)" font-size="9.8" font-weight="bold" text-anchor="end">500</text>
<line x1="353.50" y1="448.50" x2="357.40" y2="448.50" stroke="#2a2a2a" stroke-width="1"/>
<text transform="translate(349.90 451.40) scale(1.15 1)" font-size="9.8" font-weight="bold" text-anchor="end">0</text>
<text transform="translate(321.20 384.50) rotate(-90) scale(1.05 1)" font-size="9.6" font-weight="bold" text-anchor="middle">mtDNA copies/cell</text>
<line x1="376.50" y1="431.80" x2="376.50" y2="430.50" stroke="#2a2a2a" stroke-width="1"/>
<line x1="370.25" y1="430.50" x2="382.75" y2="430.50" stroke="#2a2a2a" stroke-width="1"/>
<rect x="363.60" y="432.20" width="25.00" height="16.30" fill="url(#pE)" stroke="#2a2a2a" stroke-width="0.9"/>
<line x1="414.50" y1="435.50" x2="414.50" y2="434.50" stroke="#2a2a2a" stroke-width="1"/>
<line x1="408.25" y1="434.50" x2="420.75" y2="434.50" stroke="#2a2a2a" stroke-width="1"/>
<rect x="401.90" y="435.90" width="25.60" height="12.60" fill="url(#pE)" stroke="#2a2a2a" stroke-width="0.9"/>
<line x1="453.50" y1="443.50" x2="453.50" y2="442.50" stroke="#2a2a2a" stroke-width="1"/>
<line x1="447.25" y1="442.50" x2="459.75" y2="442.50" stroke="#2a2a2a" stroke-width="1"/>
<rect x="440.30" y="443.90" width="25.50" height="4.60" fill="url(#pE)" stroke="#2a2a2a" stroke-width="0.9"/>
<line x1="491.50" y1="353.30" x2="491.50" y2="342.50" stroke="#2a2a2a" stroke-width="1"/>
<line x1="485.25" y1="342.50" x2="497.75" y2="342.50" stroke="#2a2a2a" stroke-width="1"/>
<rect x="478.90" y="353.70" width="25.70" height="94.80" fill="url(#pE)" stroke="#2a2a2a" stroke-width="0.9"/>
<line x1="530.50" y1="424.80" x2="530.50" y2="421.50" stroke="#2a2a2a" stroke-width="1"/>
<line x1="524.25" y1="421.50" x2="536.75" y2="421.50" stroke="#2a2a2a" stroke-width="1"/>
<rect x="517.40" y="425.20" width="25.70" height="23.30" fill="url(#pE)" stroke="#2a2a2a" stroke-width="0.9"/>
<line x1="353.50" y1="448.50" x2="549.00" y2="448.50" stroke="#2a2a2a" stroke-width="1"/>
<line x1="376.10" y1="448.50" x2="376.10" y2="451.90" stroke="#2a2a2a" stroke-width="1"/>
<line x1="414.70" y1="448.50" x2="414.70" y2="451.90" stroke="#2a2a2a" stroke-width="1"/>
<line x1="453.05" y1="448.50" x2="453.05" y2="451.90" stroke="#2a2a2a" stroke-width="1"/>
<line x1="491.75" y1="448.50" x2="491.75" y2="451.90" stroke="#2a2a2a" stroke-width="1"/>
<line x1="530.25" y1="448.50" x2="530.25" y2="451.90" stroke="#2a2a2a" stroke-width="1"/>
<text transform="translate(378.70 459.30) rotate(-45) scale(1.06 1)" font-size="10.4" font-weight="bold" text-anchor="end">Und</text>
<text transform="translate(417.30 459.30) rotate(-45) scale(1.06 1)" font-size="10.4" font-weight="bold" text-anchor="end">Day 1</text>
<text transform="translate(455.65 459.30) rotate(-45) scale(1.06 1)" font-size="10.4" font-weight="bold" text-anchor="end">Day 6</text>
<text transform="translate(494.35 459.30) rotate(-45) scale(1.06 1)" font-size="10.4" font-weight="bold" text-anchor="end">Day 7</text>
<text transform="translate(532.85 459.30) rotate(-45) scale(1.06 1)" font-size="10.4" font-weight="bold" text-anchor="end">Day 14</text>
</g>
<g id="panelF">
<text transform="translate(565.00 264.20)" font-size="16.3" font-weight="bold" text-anchor="start">F</text>
<line x1="626.40" y1="305.00" x2="626.40" y2="446.50" stroke="#2a2a2a" stroke-width="1"/>
<line x1="623.00" y1="305.00" x2="626.90" y2="305.00" stroke="#2a2a2a" stroke-width="1"/>
<text transform="translate(618.80 309.30) scale(0.9 1)" font-size="12" font-weight="bold" text-anchor="end" stroke-width="0.4">2.0</text>
<line x1="623.00" y1="340.20" x2="626.90" y2="340.20" stroke="#2a2a2a" stroke-width="1"/>
<text transform="translate(618.80 344.50) scale(0.9 1)" font-size="12" font-weight="bold" text-anchor="end" stroke-width="0.4">1.5</text>
<line x1="623.00" y1="375.60" x2="626.90" y2="375.60" stroke="#2a2a2a" stroke-width="1"/>
<text transform="translate(618.80 379.90) scale(0.9 1)" font-size="12" font-weight="bold" text-anchor="end" stroke-width="0.4">1.0</text>
<line x1="623.00" y1="410.90" x2="626.90" y2="410.90" stroke="#2a2a2a" stroke-width="1"/>
<text transform="translate(618.80 415.20) scale(0.9 1)" font-size="12" font-weight="bold" text-anchor="end" stroke-width="0.4">0.5</text>
<line x1="623.00" y1="446.50" x2="626.90" y2="446.50" stroke="#2a2a2a" stroke-width="1"/>
<text transform="translate(618.80 450.80) scale(0.9 1)" font-size="12" font-weight="bold" text-anchor="end" stroke-width="0.4">0.0</text>
<text transform="translate(590.40 372.80) rotate(-90) scale(0.925 1)" font-size="12" font-weight="bold" text-anchor="middle" stroke-width="0.4">ATP (RLU)</text>
<line x1="638.50" y1="371.60" x2="638.50" y2="365.50" stroke="#2a2a2a" stroke-width="1"/>
<line x1="635.90" y1="365.50" x2="641.10" y2="365.50" stroke="#2a2a2a" stroke-width="1"/>
<rect x="633.30" y="372.00" width="9.90" height="74.50" fill="url(#pU)" stroke="#2a2a2a" stroke-width="0.9"/>
<line x1="652.50" y1="381.20" x2="652.50" y2="375.50" stroke="#2a2a2a" stroke-width="1"/>
<line x1="649.90" y1="375.50" x2="655.10" y2="375.50" stroke="#2a2a2a" stroke-width="1"/>
<rect x="647.90" y="381.60" width="9.80" height="64.90" fill="url(#pZ)" stroke="#2a2a2a" stroke-width="0.9"/>
<line x1="677.50" y1="394.90" x2="677.50" y2="392.50" stroke="#2a2a2a" stroke-width="1"/>
<line x1="674.90" y1="392.50" x2="680.10" y2="392.50" stroke="#2a2a2a" stroke-width="1"/>
<rect x="672.30" y="395.30" width="9.70" height="51.20" fill="url(#pU)" stroke="#2a2a2a" stroke-width="0.9"/>
<line x1="691.50" y1="352.80" x2="691.50" y2="338.50" stroke="#2a2a2a" stroke-width="1"/>
<line x1="688.90" y1="338.50" x2="694.10" y2="338.50" stroke="#2a2a2a" stroke-width="1"/>
<rect x="686.70" y="353.20" width="9.90" height="93.30" fill="url(#pZ)" stroke="#2a2a2a" stroke-width="0.9"/>
<line x1="715.50" y1="347.90" x2="715.50" y2="325.50" stroke="#2a2a2a" stroke-width="1"/>
<line x1="712.90" y1="325.50" x2="718.10" y2="325.50" stroke="#2a2a2a" stroke-width="1"/>
<rect x="710.70" y="348.30" width="9.70" height="98.20" fill="url(#pU)" stroke="#2a2a2a" stroke-width="0.9"/>
<line x1="730.50" y1="345.20" x2="730.50" y2="332.50" stroke="#2a2a2a" stroke-width="1"/>
<line x1="727.90" y1="332.50" x2="733.10" y2="332.50" stroke="#2a2a2a" stroke-width="1"/>
<rect x="725.40" y="345.60" width="9.90" height="100.90" fill="url(#pZ)" stroke="#2a2a2a" stroke-width="0.9"/>
<line x1="754.50" y1="365.00" x2="754.50" y2="353.50" stroke="#2a2a2a" stroke-width="1"/>
<line x1="751.90" y1="353.50" x2="757.10" y2="353.50" stroke="#2a2a2a" stroke-width="1"/>
<rect x="749.50" y="365.40" width="9.70" height="81.10" fill="url(#pU)" stroke="#2a2a2a" stroke-width="0.9"/>
<line x1="768.50" y1="360.10" x2="768.50" y2="355.50" stroke="#2a2a2a" stroke-width="1"/>
<line x1="765.90" y1="355.50" x2="771.10" y2="355.50" stroke="#2a2a2a" stroke-width="1"/>
<rect x="763.80" y="360.50" width="9.90" height="86.00" fill="url(#pZ)" stroke="#2a2a2a" stroke-width="0.9"/>
<line x1="793.50" y1="371.70" x2="793.50" y2="365.50" stroke="#2a2a2a" stroke-width="1"/>
<line x1="790.90" y1="365.50" x2="796.10" y2="365.50" stroke="#2a2a2a" stroke-width="1"/>
<rect x="788.20" y="372.10" width="9.70" height="74.40" fill="url(#pU)" stroke="#2a2a2a" stroke-width="0.9"/>
<line x1="807.50" y1="354.30" x2="807.50" y2="350.50" stroke="#2a2a2a" stroke-width="1"/>
<line x1="804.90" y1="350.50" x2="810.10" y2="350.50" stroke="#2a2a2a" stroke-width="1"/>
<rect x="802.60" y="354.70" width="9.90" height="91.80" fill="url(#pZ)" stroke="#2a2a2a" stroke-width="0.9"/>
<line x1="623.00" y1="446.50" x2="820.00" y2="446.50" stroke="#2a2a2a" stroke-width="1"/>
<line x1="645.30" y1="446.50" x2="645.30" y2="449.90" stroke="#2a2a2a" stroke-width="1"/>
<line x1="684.00" y1="446.50" x2="684.00" y2="449.90" stroke="#2a2a2a" stroke-width="1"/>
<line x1="722.80" y1="446.50" x2="722.80" y2="449.90" stroke="#2a2a2a" stroke-width="1"/>
<line x1="761.60" y1="446.50" x2="761.60" y2="449.90" stroke="#2a2a2a" stroke-width="1"/>
<line x1="800.30" y1="446.50" x2="800.30" y2="449.90" stroke="#2a2a2a" stroke-width="1"/>
<text transform="translate(644.20 462.40) rotate(-45)" font-size="11.1" font-weight="bold" text-anchor="end">ESC</text>
<text transform="translate(687.10 459.50) rotate(-45)" font-size="11.1" font-weight="bold" text-anchor="end">IPS 2</text>
<text transform="translate(724.50 459.50) rotate(-45)" font-size="11.1" font-weight="bold" text-anchor="end">SC-ES 1</text>
<text transform="translate(763.90 459.50) rotate(-45)" font-size="11.1" font-weight="bold" text-anchor="end">ES-ES</text>
<text transform="translate(803.30 459.50) rotate(-45)" font-size="11.1" font-weight="bold" text-anchor="end">NT-ES</text>
<text transform="translate(678.20 350.90)" font-size="13" font-weight="normal" text-anchor="middle" font-family="DejaVu Sans, sans-serif" stroke="#111" stroke-width="0.35">*</text>
<text transform="translate(802.60 350.90)" font-size="13" font-weight="normal" text-anchor="middle" font-family="DejaVu Sans, sans-serif" stroke="#111" stroke-width="0.35">*</text>
<rect x="640.80" y="496.90" width="14.60" height="9.70" fill="url(#pU)" stroke="#2a2a2a" stroke-width="0.9"/>
<text transform="translate(664.20 505.70) scale(0.885 1)" font-size="12" font-weight="bold" text-anchor="start" stroke-width="0.4">Untreated</text>
<rect x="729.80" y="496.90" width="14.60" height="9.70" fill="url(#pZ)" stroke="#2a2a2a" stroke-width="0.9"/>
<text transform="translate(752.20 505.70) scale(0.885 1)" font-size="12" font-weight="bold" text-anchor="start" stroke-width="0.4">5-Aza</text>
</g>
</svg></body></html>
